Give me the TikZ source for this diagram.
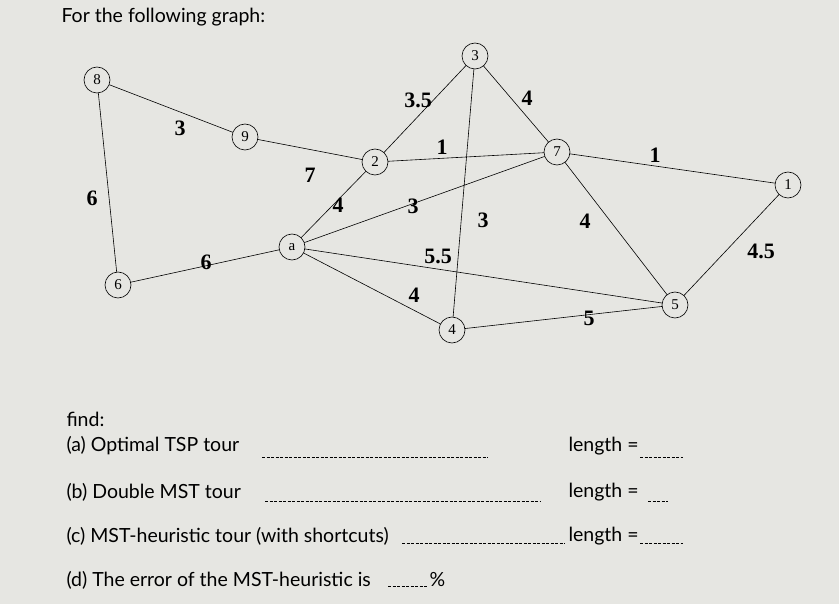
\documentclass[tikz,border=0pt]{standalone}
\usepackage{fontspec}
\setmainfont{Liberation Serif}
\newfontfamily\txt{Lato}
\begin{document}
\begin{tikzpicture}[x=1pt,y=-1pt,
  vtx/.style={circle,draw,semithick,minimum size=26pt,inner sep=0pt,font=\fontsize{15}{15}\selectfont,fill=bg},
  wt/.style={font=\bfseries\fontsize{22}{22}\selectfont},
  tx/.style={font=\txt\fontsize{19.5}{19.5}\selectfont,anchor=west},
  ln/.style={dashed,thin,dash pattern=on 3pt off 1.5pt}]
\definecolor{bg}{HTML}{E6E6E2}
\fill[bg] (0,0) rectangle (839,604);
\useasboundingbox (0,0) rectangle (839,604);
\node[tx] (title) at (58,17) {For the following graph:};
\coordinate (p8) at (97,80);
\coordinate (p9) at (245,137);
\coordinate (p2) at (375,162);
\coordinate (p3) at (475,56);
\coordinate (p7) at (557,152);
\coordinate (p1) at (788,185);
\coordinate (pa) at (292,247);
\coordinate (p6) at (118,285);
\coordinate (p4) at (452,330);
\coordinate (p5) at (675,305);
\draw[semithick] (p8)--(p9) (p8)--(p6) (p6)--(pa) (p9)--(p2) (pa)--(p2) (p2)--(p3) (p2)--(p7)
 (p3)--(p4) (p3)--(p7) (p7)--(p5) (p7)--(p1) (p1)--(p5) (pa)--(p7) (pa)--(p5) (pa)--(p4) (p4)--(p5);
\node[vtx] (n8) at (p8) {8};
\node[vtx] (n9) at (p9) {9};
\node[vtx] (n2) at (p2) {2};
\node[vtx] (n3) at (p3) {3};
\node[vtx] (n7) at (p7) {7};
\node[vtx] (n1) at (p1) {1};
\node[vtx] (na) at (pa) {a};
\node[vtx] (n6) at (p6) {6};
\node[vtx] (n4) at (p4) {4};
\node[vtx] (n5) at (p5) {5};
\node[wt] (w1) at (180,128) {3};
\node[wt] (w2) at (92,198) {6};
\node[wt] (w3) at (206,262) {6};
\node[wt] (w4) at (310,175) {7};
\node[wt] (w5) at (338,205) {4};
\node[wt] (w6) at (418,100) {3.5};
\node[wt] (w7) at (442,147) {1};
\node[wt] (w8) at (413,206) {3};
\node[wt] (w9) at (483,220) {3};
\node[wt] (w10) at (527,98) {4};
\node[wt] (w11) at (585,221) {4};
\node[wt] (w12) at (655,155) {1};
\node[wt] (w13) at (761,251) {4.5};
\node[wt] (w14) at (438,256) {5.5};
\node[wt] (w15) at (414,295) {4};
\node[wt] (w16) at (589,318) {5};
\node[tx] (f) at (63,419) {find:};
\node[tx] (qa) at (63,446) {(a) Optimal TSP tour};
\node[tx] (qb) at (63,492) {(b) Double MST tour};
\node[tx] (qc) at (63,536) {(c) MST-heuristic tour (with shortcuts)};
\node[tx] (qd) at (63,580) {(d) The error of the MST-heuristic is};
\node[tx] (la) at (565,446) {length =};
\node[tx] (lb) at (565,492) {length =};
\node[tx] (lc) at (565,536) {length =};
\node[tx] (pc) at (426,580) {\%};
\draw[ln] (262,457)--(488,457) (640,457)--(683,457);
\draw[ln] (265,501)--(540,501) (648,501)--(668,501);
\draw[ln] (402,543)--(565,543) (640,543)--(683,543);
\draw[ln] (388,586)--(428,586);
\end{tikzpicture}
\end{document}
